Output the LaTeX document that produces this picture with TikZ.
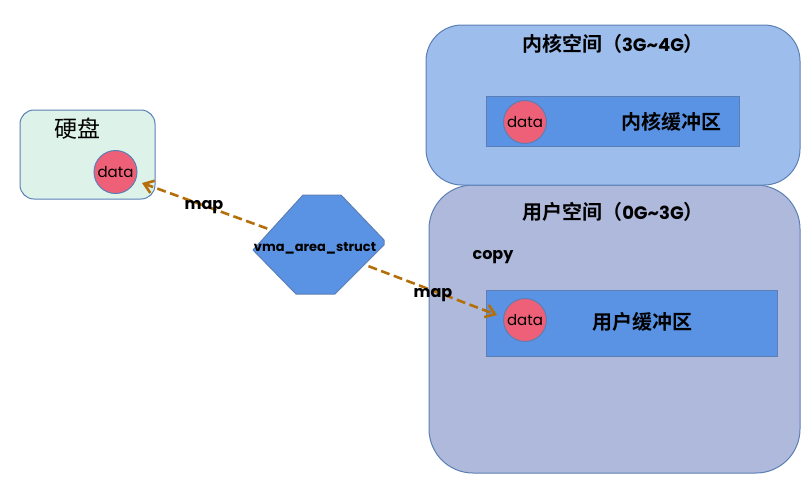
\documentclass[tikz,border=0pt]{standalone}
\usepackage{fontspec}
\setmainfont{Poppins}
\newfontfamily\cjk{Noto Sans CJK SC}
\newfontfamily\cjkbold{Noto Sans CJK SC}[BoldFont={Noto Sans CJK SC Bold}]
\usetikzlibrary{arrows.meta}

\definecolor{edgeblue}{HTML}{5B7FB5}
\definecolor{diskfill}{HTML}{DDF3EA}
\definecolor{kernelfill}{HTML}{9DBDED}
\definecolor{userfill}{HTML}{AFB9DC}
\definecolor{bufferfill}{HTML}{5B93E4}
\definecolor{datafill}{HTML}{EE6078}
\definecolor{maparrow}{HTML}{B46F0A}

\begin{document}
\begin{tikzpicture}[
        x=1pt, y=-1pt,
        area/.style = {draw=edgeblue, line width=1pt},
        datadot/.style = {circle, area, fill=datafill, minimum width=43pt, inner sep=0pt, font=\fontsize{15}{15}\selectfont},
        titletext/.style = {font=\fontsize{20}{20}\selectfont\bfseries},
        buftext/.style = {font=\fontsize{20}{20}\selectfont\cjkbold\bfseries},
        maparrow/.style = {draw=maparrow, line width=2.6pt, dash pattern=on 9pt off 4.5pt, -{Straight Barb[length=9pt,width=13pt,line width=2.6pt]}},
        maptext/.style = {font=\fontsize{16}{16}\selectfont\bfseries}
    ]
        \useasboundingbox (0,0) rectangle (810,488);

        % disk
        \draw[area, fill=diskfill, rounded corners=14pt] (20,110) rectangle (155,199);
        \node[font=\fontsize{23}{23}\selectfont\cjk] (disktitle) at (77,129) {硬盘};
        \node[datadot] (diskdata) at (115.5,172) {data};

        % address spaces
        \draw[area, fill=userfill, rounded corners=44pt] (429,185) rectangle (800,473);
        \draw[area, fill=kernelfill, rounded corners=36pt] (426,25) rectangle (800,185);

        \node[titletext] (kerneltitle) at (613,44) {\cjkbold\bfseries 内核空间（\normalfont\bfseries\fontsize{18}{18}\selectfont 3G\textasciitilde 4G\cjkbold\bfseries\fontsize{20}{20}\selectfont ）};
        \node[titletext] (usertitle) at (613,212) {\cjkbold\bfseries 用户空间（\normalfont\bfseries\fontsize{18}{18}\selectfont 0G\textasciitilde 3G\cjkbold\bfseries\fontsize{20}{20}\selectfont ）};

        % buffers
        \draw[area, fill=bufferfill] (486.5,96.5) rectangle (739.5,146.5);
        \draw[area, fill=bufferfill] (486.5,290.5) rectangle (777.5,356.5);
        \node[buftext] (kernelbuf) at (671,122) {内核缓冲区};
        \node[buftext] (userbuf) at (642,322) {用户缓冲区};
        \node[datadot] (kerneldata) at (525,122) {data};
        \node[datadot] (userdata) at (525,320) {data};
        \node[maptext] (copylabel) at (493,257) {copy};

        % map arrows, they start under the octagon
        \coordinate (vma) at (318,247);
        \coordinate (diskend) at (142,183);
        \coordinate (userend) at (497,315);
        \draw[maparrow] (vma) -- (diskend);
        \draw[maparrow] (vma) -- (userend);

        \draw[area, fill=bufferfill] (303,195) -- (341,195) -- (384,240) -- (384,245) -- (335,294) -- (296,294) -- (253,250) -- cycle;
        \node[font=\fontsize{13}{13}\selectfont\bfseries] (vmatext) at (315,248) {vma\_area\_struct};

        \node[maptext] (map1) at (204,207) {map};
        \node[maptext] (map2) at (433,295) {map};
    \end{tikzpicture}
\end{document}
